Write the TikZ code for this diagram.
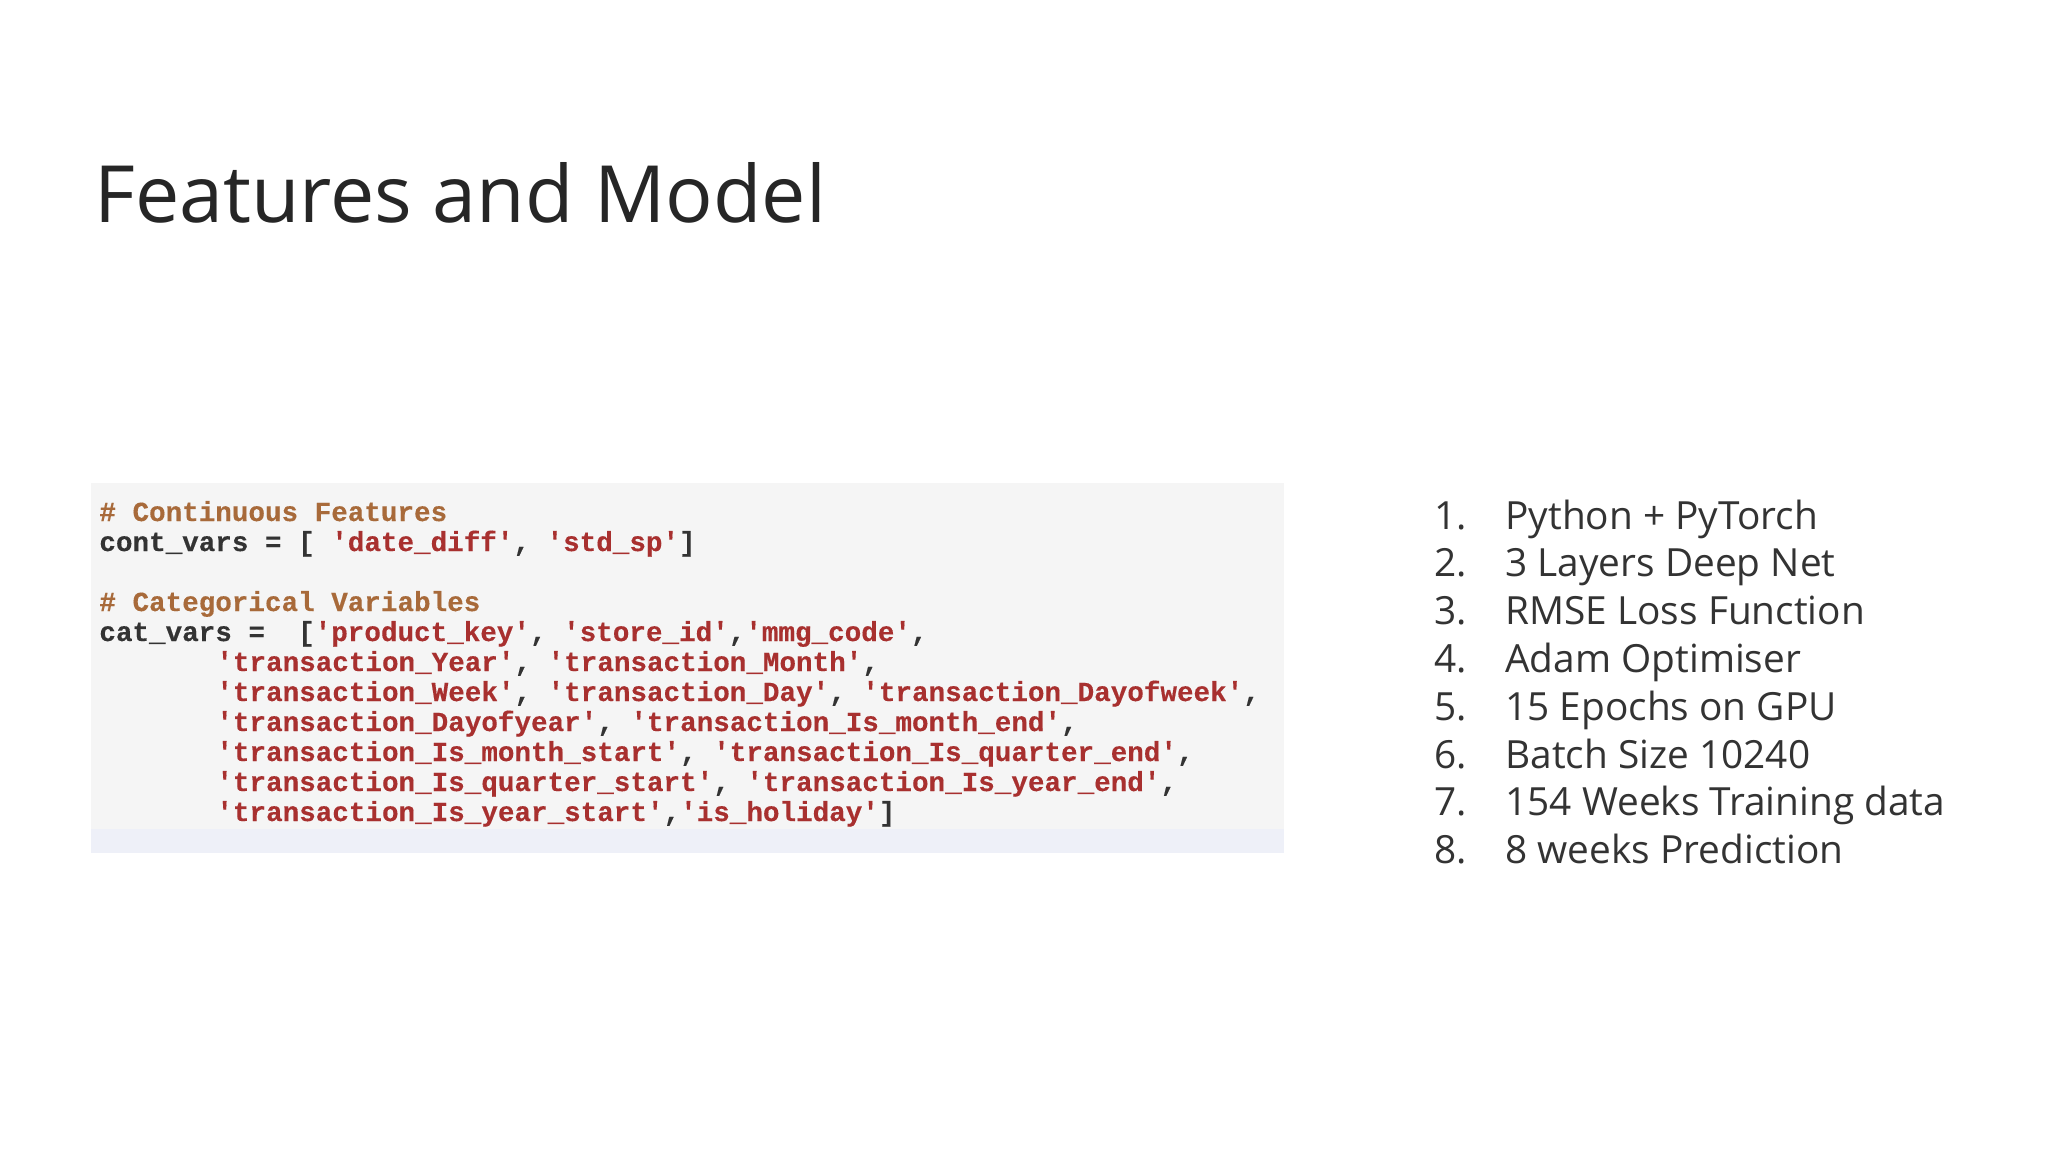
\documentclass[tikz,border=0pt]{standalone}
\usepackage{fontspec}
\setmainfont{Open Sans}
\newfontfamily\codefont{Liberation Mono}[FakeBold=0.3]
\definecolor{cmt}{HTML}{A86A3A}
\definecolor{str}{HTML}{A8302F}
\definecolor{plain}{HTML}{333333}
\definecolor{codebg}{HTML}{F5F5F5}
\definecolor{codebot}{HTML}{EEF0F8}
\tikzset{
  title/.style={anchor=base west, inner sep=0pt, font=\fontsize{39.5}{44}\selectfont, text=black!85},
  item/.style={anchor=base west, inner sep=0pt, font=\fontsize{19.4}{24}\selectfont, text=black!80},
  code/.style={anchor=base west, inner sep=0pt, font=\codefont\fontsize{13.8}{15}\selectfont\bfseries, text=plain},
}
\newcommand{\sq}[1]{\textcolor{str}{'#1'}}
\begin{document}
\begin{tikzpicture}[x=0.5pt,y=-0.5pt]
\useasboundingbox (0,0) rectangle (2048,1152);
\fill[white] (0,0) rectangle (2048,1152);
\node[title] (t) at (94,222) {Features and Model};
% code box
\fill[codebg] (91,483) rectangle (1284,853);
\fill[codebot] (91,829) rectangle (1284,853);
\node[code,text=cmt] (c1) at (99,521) {\# Continuous Features};
\node[code] (c2) at (99,551) {cont\_vars = [ \sq{date\_diff}, \sq{std\_sp}]};
\node[code,text=cmt] (c3) at (99,611) {\# Categorical Variables};
\node[code] (c4) at (99,641) {cat\_vars =\ \ [\sq{product\_key}, \sq{store\_id},\sq{mmg\_code},};
\node[code] (c5) at (216,671) {\sq{transaction\_Year}, \sq{transaction\_Month},};
\node[code] (c6) at (216,701) {\sq{transaction\_Week}, \sq{transaction\_Day}, \sq{transaction\_Dayofweek},};
\node[code] (c7) at (216,731) {\sq{transaction\_Dayofyear}, \sq{transaction\_Is\_month\_end},};
\node[code] (c8) at (216,761) {\sq{transaction\_Is\_month\_start}, \sq{transaction\_Is\_quarter\_end},};
\node[code] (c9) at (216,791) {\sq{transaction\_Is\_quarter\_start}, \sq{transaction\_Is\_year\_end},};
\node[code] (c10) at (216,821) {\sq{transaction\_Is\_year\_start},\sq{is\_holiday}]};
% list
\foreach \n/\t [count=\i from 0] in {1/Python + PyTorch,2/3 Layers Deep Net,3/RMSE Loss Function,4/Adam Optimiser,5/15 Epochs on GPU,6/Batch Size 10240,7/154 Weeks Training data,8/8 weeks Prediction}{
  \node[item] (n\n) at (1434,{529+47.8*\i}) {\n.};
  \node[item] (l\n) at (1505,{529+47.8*\i}) {\t};
}
\end{tikzpicture}
\end{document}
